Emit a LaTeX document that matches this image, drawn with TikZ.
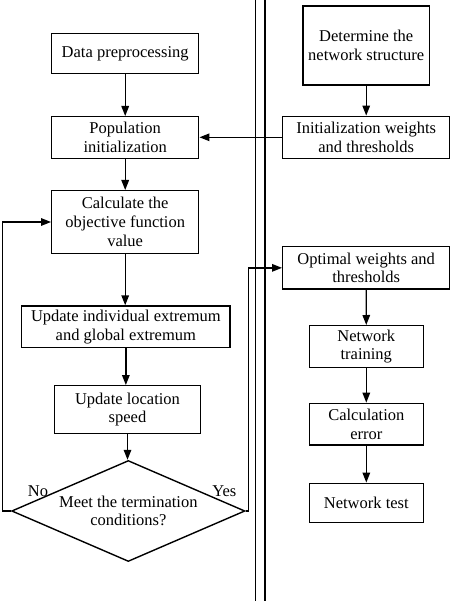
\documentclass[tikz,border=0pt]{standalone}
\usepackage{fontspec}
\setmainfont{Liberation Serif}
\usetikzlibrary{arrows.meta,shapes.geometric}
\begin{document}
\begin{tikzpicture}[x=1pt,y=-1pt,
  box/.style={draw, line width=1.4pt, align=center, inner sep=0pt,
    font=\fontsize{16.5}{18.7}\selectfont},
  arr/.style={-{Triangle[length=10pt,width=7.5pt]}, line width=1.4pt},
  sep/.style={line width=1.1pt},
  lbl/.style={font=\fontsize{16.5}{18.7}\selectfont, inner sep=0pt}]
\useasboundingbox (0,0) rectangle (474,601);
% separator lines
\coordinate (s1t) at (255.7,0); \coordinate (s1b) at (255.7,601);
\coordinate (s2t) at (265,0);   \coordinate (s2b) at (265,601);
\draw[sep] (s1t) -- (s1b);
\draw[sep] (s2t) -- (s2b);
% left column
\node[box, minimum width=147pt, minimum height=39.6pt] (dp) at (125.2,53.5) {Data preprocessing};
\node[box, minimum width=147pt, minimum height=41.6pt] (pop) at (125.2,137.5) {Population\\initialization};
\node[box, minimum width=147pt, minimum height=62.6pt] (calc) at (125.2,222) {Calculate the\\objective function\\value};
\node[box, minimum width=208.3pt, minimum height=41.7pt] (upd) at (125.85,326.85) {Update individual extremum\\and global extremum};
\node[box, minimum width=146.4pt, minimum height=47.6pt] (loc) at (127.5,409.5) {Update location\\speed};
\node[box, diamond, aspect=2.3, minimum width=233.3pt, minimum height=101pt] (dia) at (128.3,511) {Meet the termination\\conditions?};
% right column
\node[box, minimum width=126.3pt, minimum height=79pt] (dns) at (366.2,45.5) {Determine the\\network structure};
\node[box, minimum width=167pt, minimum height=42pt] (iw) at (366.2,137.3) {Initialization weights\\and thresholds};
\node[box, minimum width=167pt, minimum height=42.3pt] (ow) at (366.2,267.85) {Optimal weights and\\thresholds};
\node[box, minimum width=114pt, minimum height=42pt] (nt) at (366.3,346.7) {Network\\training};
\node[box, minimum width=114pt, minimum height=41.7pt] (ce) at (366.3,424.2) {Calculation\\error};
\node[box, minimum width=114pt, minimum height=39.4pt] (ntest) at (366.3,503) {Network test};
% labels
\node[lbl] (no) at (38,491) {No};
\node[lbl] (yes) at (224.3,491) {Yes};
% connectors
\coordinate (nox) at (2.7,0);
\coordinate (yesx) at (248.3,0);
\draw[arr] (dp) -- (pop);
\draw[arr] (pop) -- (calc);
\draw[arr] (calc.south) -- (calc.south |- upd.north);
\draw[arr] (upd.south) -- (upd.south |- loc.north);
\draw[arr] (loc.south) -- (loc.south |- dia.north);
\draw[arr] (dia.west) -- (dia.west -| nox) |- (calc.west);
\draw[arr] (dia.east) -- (dia.east -| yesx) |- (ow.west);
\draw[arr] (dns) -- (iw);
\draw[arr] (iw.west) -- (iw.west -| pop.east);
\draw[arr] (ow) -- (nt);
\draw[arr] (nt) -- (ce);
\draw[arr] (ce) -- (ntest);
\end{tikzpicture}
\end{document}
